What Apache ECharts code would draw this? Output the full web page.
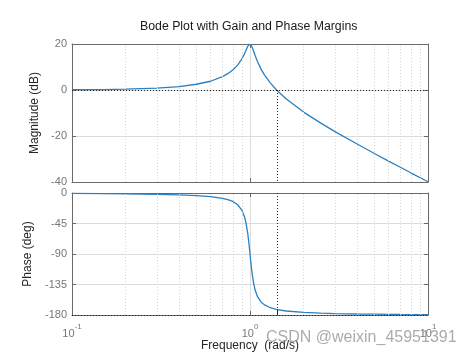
<!DOCTYPE html>
<html>
<head>
<meta charset="utf-8">
<script src="https://cdn.jsdelivr.net/npm/echarts@6/dist/echarts.min.js"></script>
<style>
html,body{margin:0;padding:0;background:#fff;}
#chart{width:474px;height:355px;}
</style>
</head>
<body>
<div id="chart"></div>
<script>
// ---- data ----
const frequencies = [0.1, 0.15, 0.2, 0.3, 0.4, 0.5, 0.6, 0.7, 0.75, 0.8, 0.85, 0.9, 0.93, 0.95, 0.97, 0.98, 0.99, 1.0,
  1.01, 1.02, 1.03, 1.05, 1.07, 1.1, 1.15, 1.2, 1.3, 1.414, 1.6, 2, 2.5, 3, 4, 5, 6, 7, 8, 10];
const magnitudeDb = [0.1, 0.2, 0.35, 0.8, 1.5, 2.5, 3.8, 5.8, 7.1, 8.7, 10.7, 13.5, 15.7, 17.3, 18.9, 19.5, 19.9, 20.0,
  19.7, 19.2, 18.4, 16.7, 14.9, 12.5, 9.3, 6.8, 3.1, -0.1, -3.9, -9.6, -14.4, -18.1, -23.5, -27.6, -30.9, -33.6, -36.0, -39.9];
const phaseDeg = [-0.6, -0.9, -1.2, -1.9, -2.7, -3.8, -5.4, -7.8, -9.7, -12.5, -17.0, -25.4, -34.5, -44.3, -58.7, -68.0, -78.6, -90.0,
  -101.3, -111.6, -120.6, -134.3, -143.6, -152.4, -160.4, -164.7, -169.3, -172.0, -174.1, -176.2, -177.3, -177.9, -178.5, -178.8, -179.0, -179.2, -179.3, -179.4];
const minorGridFreqs = [0.2, 0.3, 0.4, 0.5, 0.6, 0.7, 0.8, 0.9, 2, 3, 4, 5, 6, 7, 8, 9];
const xTickExponents = {"0.1": "-1", "1": "0", "10": "1"};
const magTicks = {min: -40, max: 20, interval: 20};
const phaseTicks = {min: -180, max: 0, interval: 45};
const crossoverFreq = 1.414;
const phaseAtCrossover = -172;

const FONT = 'Liberation Sans, Arial, Helvetica, sans-serif';
const LINE = '#2a80c2';
const BOX = '#6a6a6a';
const TICKC = '#777';

const chart = echarts.init(document.getElementById('chart'), null, {renderer: 'canvas'});

function xAx(grid, pos, labels) {
  return {
    type: 'log', logBase: 10, gridIndex: grid, position: pos, min: 0.1, max: 10,
    axisLine: {show: true, onZero: false, lineStyle: {color: BOX, width: 1}},
    axisTick: {show: true, inside: true, length: 4, lineStyle: {color: BOX}},
    splitLine: {show: pos === 'bottom', lineStyle: {color: '#dcdcdc', width: 1}},
    axisLabel: labels ? {
      show: true, margin: 8, color: TICKC, fontFamily: FONT,
      formatter: function (v) {
        const key = String(Math.round(v * 1000) / 1000);
        const e = xTickExponents[key];
        return e === undefined ? '' : '{b|10}{s|' + e + '}';
      },
      rich: {
        b: {fontSize: 11, color: TICKC, fontFamily: FONT, verticalAlign: 'bottom', lineHeight: 16},
        s: {fontSize: 8, color: TICKC, fontFamily: FONT, verticalAlign: 'top', lineHeight: 16}
      }
    } : {show: false},
    name: labels ? 'Frequency  (rad/s)' : '',
    nameLocation: 'middle', nameGap: 23,
    nameTextStyle: {fontSize: 12, color: '#262626', fontFamily: FONT}
  };
}
function yAx(grid, pos, ticks, name, gap) {
  const show = pos === 'left';
  return {
    type: 'value', gridIndex: grid, position: pos,
    min: ticks.min, max: ticks.max, interval: ticks.interval,
    axisLine: {show: true, onZero: false, lineStyle: {color: BOX, width: 1}},
    axisTick: {show: true, inside: true, length: 4, lineStyle: {color: BOX}},
    splitLine: {show: show, lineStyle: {color: '#dcdcdc', width: 1}},
    axisLabel: {show: show, margin: 5, fontSize: 11, color: TICKC, fontFamily: FONT},
    name: show ? name : '', nameLocation: 'middle', nameGap: gap,
    nameTextStyle: {fontSize: 12, color: '#262626', fontFamily: FONT}
  };
}

const minorLines = minorGridFreqs.map(f => ({xAxis: f}));
const minorStyle = {color: '#d6d6d6', type: [1, 2], width: 1};
const markDot = {color: '#222', type: [1, 2], width: 1};

const option = {
  animation: false,
  backgroundColor: '#fff',
  grid: [
    {left: 72, top: 44, width: 356, height: 138},
    {left: 72, top: 193, width: 356, height: 122}
  ],
  xAxis: [xAx(0, 'bottom', false), xAx(1, 'bottom', true), xAx(0, 'top', false), xAx(1, 'top', false)],
  yAxis: [yAx(0, 'left', magTicks, 'Magnitude (dB)', 24), yAx(1, 'left', phaseTicks, 'Phase (deg)', 31),
          yAx(0, 'right', magTicks, '', 0), yAx(1, 'right', phaseTicks, '', 0)],
  graphic: [
    {type: 'text', left: 250 - 110, top: 21, style: {text: 'Bode Plot with Gain and Phase Margins', font: '12.3px ' + FONT, fill: '#1a1a1a', width: 220, align: 'center'}, z: 10},
    {type: 'text', left: 266, top: 330, style: {text: 'CSDN @weixin_45951391', font: '16px ' + FONT, fill: 'rgba(150,150,150,0.8)'}, z: 20}
  ],
  series: [
    {
      type: 'line', xAxisIndex: 0, yAxisIndex: 0, data: [], z: 1, silent: true,
      markLine: {silent: true, symbol: 'none', label: {show: false}, lineStyle: minorStyle, data: minorLines, animation: false}
    },
    {
      type: 'line', xAxisIndex: 1, yAxisIndex: 1, data: [], z: 1, silent: true,
      markLine: {silent: true, symbol: 'none', label: {show: false}, lineStyle: minorStyle, data: minorLines, animation: false}
    },
    {
      type: 'line', xAxisIndex: 0, yAxisIndex: 0, z: 3,
      data: frequencies.map((f, i) => [f, magnitudeDb[i]]),
      showSymbol: false, smooth: false, lineStyle: {color: LINE, width: 1.3}, itemStyle: {color: LINE},
      markLine: {
        silent: true, symbol: 'none', label: {show: false}, animation: false,
        data: [
          {yAxis: 0, lineStyle: markDot},
          [{coord: [crossoverFreq, 0], lineStyle: markDot}, {coord: [crossoverFreq, magTicks.min]}]
        ]
      }
    },
    {
      type: 'line', xAxisIndex: 1, yAxisIndex: 1, z: 3,
      data: frequencies.map((f, i) => [f, phaseDeg[i]]),
      showSymbol: false, smooth: false, lineStyle: {color: LINE, width: 1.3}, itemStyle: {color: LINE},
      markLine: {
        silent: true, symbol: 'none', label: {show: false}, animation: false,
        data: [
          {yAxis: -180, lineStyle: markDot},
          [{coord: [crossoverFreq, phaseTicks.max], lineStyle: markDot}, {coord: [crossoverFreq, phaseAtCrossover]}],
          [{coord: [crossoverFreq, phaseAtCrossover], lineStyle: {color: '#222', type: 'solid', width: 1}}, {coord: [crossoverFreq, -180]}]
        ]
      }
    }
  ]
};
chart.setOption(option);
</script>
</body>
</html>
